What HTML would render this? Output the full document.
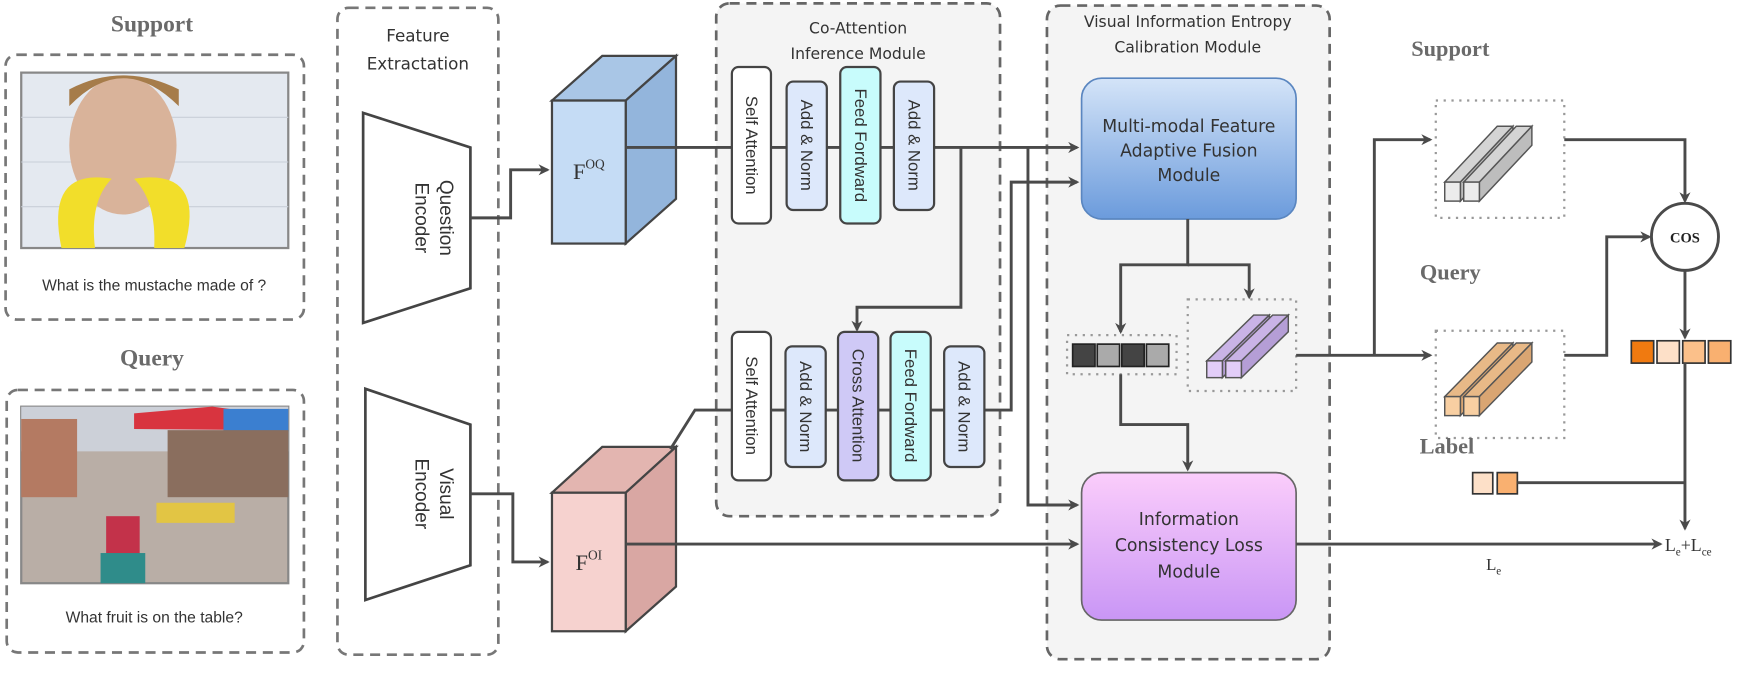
<!DOCTYPE html>
<html><head><meta charset="utf-8"><style>
html,body{margin:0;padding:0;background:#fff;}
svg{display:block;}
.t{font-family:"Liberation Sans",sans-serif;fill:#333;}
.c{font-family:"DejaVu Sans","Liberation Sans",sans-serif;fill:#333;}
.lbl{font-family:"Liberation Serif",serif;font-weight:bold;fill:#6a6a6a;}
.ln{stroke:#4a4a4a;stroke-width:2.6;fill:none;}
.dash{fill:#f4f4f4;stroke:#666;stroke-width:2.4;stroke-dasharray:9 6;}
.dashw{fill:#fff;stroke:#777;stroke-width:2.4;stroke-dasharray:9 6;}
.dot{fill:none;stroke:#999;stroke-width:2;stroke-dasharray:2 5;}
.blk{stroke:#444;stroke-width:2;}
</style></head><body>
<svg width="1752" height="686" viewBox="0 0 1568 614" preserveAspectRatio="none" xmlns="http://www.w3.org/2000/svg">
<defs>
<marker id="a" markerWidth="10" markerHeight="10" refX="8" refY="5" orient="auto" markerUnits="userSpaceOnUse"><path d="M0,0 L10,5 L0,10 L3,5 z" fill="#4a4a4a"/></marker>
<linearGradient id="gb" x1="0" y1="0" x2="0" y2="1"><stop offset="0" stop-color="#d4e4f8"/><stop offset="1" stop-color="#6b9bdc"/></linearGradient>
<linearGradient id="gp" x1="0" y1="0" x2="0" y2="1"><stop offset="0" stop-color="#fbcdfb"/><stop offset="1" stop-color="#c996f5"/></linearGradient>
</defs>

<!-- Left panel -->
<text x="136" y="28" text-anchor="middle" class="lbl" font-size="21">Support</text>
<rect x="5" y="49" width="267" height="237" rx="10" class="dashw"/>
<rect x="19" y="65" width="239" height="157" fill="#e4e9f0" stroke="#888" stroke-width="2"/>
<line x1="19" y1="105" x2="258" y2="105" stroke="#c8ced8"/><line x1="19" y1="145" x2="258" y2="145" stroke="#c8ced8"/><line x1="19" y1="185" x2="258" y2="185" stroke="#c8ced8"/>
<ellipse cx="110" cy="130" rx="48" ry="62" fill="#d9b39a"/>
<path d="M62,95 Q110,45 160,95 L160,80 Q110,55 62,80z" fill="#a67c4a"/>
<path d="M55,222 Q40,150 100,160 Q80,180 85,222z" fill="#f2de2a"/>
<path d="M165,222 Q185,150 120,160 Q140,180 138,222z" fill="#f2de2a"/>
<text x="138" y="260" text-anchor="middle" class="t" font-size="14">What is the mustache made of ?</text>

<text x="136" y="327" text-anchor="middle" class="lbl" font-size="21">Query</text>
<rect x="6" y="349" width="266" height="235" rx="10" class="dashw"/>
<rect x="19" y="364" width="239" height="158" fill="#b9aea6" stroke="#888" stroke-width="2"/>
<rect x="19" y="364" width="239" height="40" fill="#ccd0d8"/>
<path d="M120,370 L190,364 L250,372 L250,385 L120,384z" fill="#d8343f"/>
<rect x="200" y="366" width="58" height="20" fill="#3b7fd0"/>
<rect x="19" y="375" width="50" height="70" fill="#b47a62"/>
<rect x="150" y="385" width="108" height="60" fill="#8a6e5e"/>
<rect x="140" y="450" width="70" height="18" fill="#e2c544"/>
<rect x="95" y="462" width="30" height="35" fill="#c3324a"/>
<rect x="90" y="495" width="40" height="27" fill="#2f8c8a"/>
<text x="138" y="557" text-anchor="middle" class="t" font-size="14">What fruit is on the table?</text>

<!-- Feature extraction -->
<rect x="302" y="7" width="144" height="579" rx="10" class="dashw"/>
<text x="374" y="37" text-anchor="middle" class="c" font-size="15">Feature</text>
<text x="374" y="62" text-anchor="middle" class="c" font-size="15">Extractation</text>
<polygon points="325,101 421,132 421,258 325,289" fill="#fff" stroke="#444" stroke-width="2.4"/>
<text transform="translate(386,195) rotate(90)" text-anchor="middle" class="t" font-size="17"><tspan x="0" y="-8">Question</tspan><tspan x="0" y="14">Encoder</tspan></text>
<polygon points="327,348 421,380 421,506 327,537" fill="#fff" stroke="#444" stroke-width="2.4"/>
<text transform="translate(386,442) rotate(90)" text-anchor="middle" class="t" font-size="17"><tspan x="0" y="-8">Visual</tspan><tspan x="0" y="14">Encoder</tspan></text>

<polyline points="421,195 457,195 457,152 490,152" class="ln" marker-end="url(#a)"/>
<polyline points="421,442 459,442 459,503 490,503" class="ln" marker-end="url(#a)"/>

<!-- cubes -->
<polygon points="494,90 539,50 605,50 560,90" fill="#a9c6e6" stroke="#444" stroke-width="2"/>
<polygon points="560,90 605,50 605,178 560,218" fill="#93b5dc" stroke="#444" stroke-width="2"/>
<rect x="494" y="90" width="66" height="128" fill="#c5dcf5" stroke="#444" stroke-width="2"/>
<text x="527" y="160" text-anchor="middle" font-family="Liberation Serif,serif" font-size="20" fill="#333">F<tspan font-size="12" dy="-9">OQ</tspan></text>

<polygon points="494,441 539,400 605,400 560,441" fill="#e3b5b0" stroke="#444" stroke-width="2"/>
<polygon points="560,441 605,400 605,525 560,565" fill="#d9a7a3" stroke="#444" stroke-width="2"/>
<rect x="494" y="441" width="66" height="124" fill="#f6d2cf" stroke="#444" stroke-width="2"/>
<text x="527" y="510" text-anchor="middle" font-family="Liberation Serif,serif" font-size="20" fill="#333">F<tspan font-size="12" dy="-9">OI</tspan></text>

<!-- Boxes behind connectors -->
<rect x="641" y="3" width="254" height="459" rx="12" class="dash"/>
<rect x="937" y="5" width="253" height="585" rx="12" class="dash"/>
<text x="768" y="30" text-anchor="middle" class="c" font-size="14">Co-Attention</text>
<text x="768" y="53" text-anchor="middle" class="c" font-size="14">Inference Module</text>
<text x="1063" y="24" text-anchor="middle" class="c" font-size="14">Visual Information Entropy</text>
<text x="1063" y="47" text-anchor="middle" class="c" font-size="14">Calibration Module</text>

<line x1="560" y1="132" x2="964" y2="132" class="ln" marker-end="url(#a)"/>
<polyline points="860,132 860,275 767,275 767,295" class="ln" marker-end="url(#a)"/>
<polyline points="920,132 920,452 964,452" class="ln" marker-end="url(#a)"/>
<polyline points="600,402 622,367 905,367 905,163 964,163" class="ln" marker-end="url(#a)"/>
<line x1="560" y1="487" x2="964" y2="487" class="ln" marker-end="url(#a)"/>

<g class="t" font-size="15">
<rect x="655" y="60" width="35" height="140" rx="6" fill="#fff" class="blk"/><text transform="translate(672.5,130) rotate(90)" text-anchor="middle" y="5">Self Attention</text>
<rect x="704" y="73" width="36" height="115" rx="6" fill="#dde8fb" class="blk"/><text transform="translate(722,130) rotate(90)" text-anchor="middle" y="5">Add &amp; Norm</text>
<rect x="752" y="60" width="36" height="140" rx="6" fill="#c8fcfc" class="blk"/><text transform="translate(770,130) rotate(90)" text-anchor="middle" y="5">Feed Fordward</text>
<rect x="800" y="73" width="36" height="115" rx="6" fill="#dde8fb" class="blk"/><text transform="translate(818,130) rotate(90)" text-anchor="middle" y="5">Add &amp; Norm</text>

<rect x="655" y="297" width="35" height="133" rx="6" fill="#fff" class="blk"/><text transform="translate(672.5,363) rotate(90)" text-anchor="middle" y="5">Self Attention</text>
<rect x="703" y="310" width="36" height="108" rx="6" fill="#dde8fb" class="blk"/><text transform="translate(721,364) rotate(90)" text-anchor="middle" y="5">Add &amp; Norm</text>
<rect x="750" y="297" width="36" height="133" rx="6" fill="#cfc9f6" class="blk"/><text transform="translate(768,363) rotate(90)" text-anchor="middle" y="5">Cross Attention</text>
<rect x="797" y="297" width="36" height="133" rx="6" fill="#c8fcfc" class="blk"/><text transform="translate(815,363) rotate(90)" text-anchor="middle" y="5">Feed Fordward</text>
<rect x="845" y="310" width="36" height="108" rx="6" fill="#dde8fb" class="blk"/><text transform="translate(863,364) rotate(90)" text-anchor="middle" y="5">Add &amp; Norm</text>
</g>

<!-- VIE contents -->
<rect x="968" y="70" width="192" height="126" rx="18" fill="url(#gb)" stroke="#5a86c0" stroke-width="1.5"/>
<g class="c" font-size="15.5" text-anchor="middle">
<text x="1064" y="118">Multi-modal Feature</text><text x="1064" y="140">Adaptive Fusion</text><text x="1064" y="162">Module</text>
</g>
<polyline points="1063,196 1063,237 1003,237 1003,297" class="ln" marker-end="url(#a)"/>
<polyline points="1063,237 1118,237 1118,266" class="ln" marker-end="url(#a)"/>
<rect x="955" y="300" width="98" height="35" class="dot"/>
<rect x="960" y="308" width="20" height="20" fill="#444" stroke="#222" stroke-width="1.5"/>
<rect x="982" y="308" width="20" height="20" fill="#aaa" stroke="#222" stroke-width="1.5"/>
<rect x="1004" y="308" width="20" height="20" fill="#444" stroke="#222" stroke-width="1.5"/>
<rect x="1026" y="308" width="20" height="20" fill="#aaa" stroke="#222" stroke-width="1.5"/>
<polyline points="1003,335 1003,380 1063,380 1063,420" class="ln" marker-end="url(#a)"/>
<rect x="1063" y="268" width="97" height="82" class="dot"/>
<g stroke="#555" stroke-width="1.3">
<polygon points="1080,323 1122,282 1136,282 1094,323" fill="#c9b3e6"/><polygon points="1094,323 1136,282 1136,297 1094,338" fill="#b59ed6"/><rect x="1080" y="323" width="14" height="15" fill="#e2cdf8"/>
<polygon points="1097,323 1139,282 1153,282 1111,323" fill="#c9b3e6"/><polygon points="1111,323 1153,282 1153,297 1111,338" fill="#b59ed6"/><rect x="1097" y="323" width="14" height="15" fill="#e2cdf8"/>
</g>
<rect x="968" y="423" width="192" height="132" rx="18" fill="url(#gp)" stroke="#666" stroke-width="1.5"/>
<g class="c" font-size="15.5" text-anchor="middle">
<text x="1064" y="470">Information</text><text x="1064" y="493">Consistency Loss</text><text x="1064" y="517">Module</text>
</g>

<!-- right -->
<line x1="1160" y1="487" x2="1486" y2="487" class="ln" marker-end="url(#a)"/>
<text x="1330" y="510" font-family="Liberation Serif,serif" font-size="15" fill="#333">L<tspan font-size="10" dy="4">e</tspan></text>
<text x="1490" y="493" font-family="Liberation Serif,serif" font-size="16" fill="#333">L<tspan font-size="10" dy="4">e</tspan><tspan dy="-4">+L</tspan><tspan font-size="10" dy="4">ce</tspan></text>
<polyline points="1160,318 1280,318" class="ln" marker-end="url(#a)"/>
<polyline points="1230,318 1230,125 1280,125" class="ln" marker-end="url(#a)"/>
<text x="1298" y="50" text-anchor="middle" class="lbl" font-size="20">Support</text>
<rect x="1285" y="90" width="115" height="105" class="dot"/>
<g stroke="#555" stroke-width="1.3">
<polygon points="1293,163 1340,113 1354,113 1307,163" fill="#d4d4d4"/><polygon points="1307,163 1354,113 1354,130 1307,180" fill="#bdbdbd"/><rect x="1293" y="163" width="14" height="17" fill="#ececec"/>
<polygon points="1310,163 1357,113 1371,113 1324,163" fill="#d4d4d4"/><polygon points="1324,163 1371,113 1371,130 1324,180" fill="#bdbdbd"/><rect x="1310" y="163" width="14" height="17" fill="#ececec"/>
</g>
<text x="1298" y="250" text-anchor="middle" class="lbl" font-size="20">Query</text>
<rect x="1285" y="296" width="115" height="96" class="dot"/>
<g stroke="#555" stroke-width="1.3">
<polygon points="1293,355 1340,307 1354,307 1307,355" fill="#e8b987"/><polygon points="1307,355 1354,307 1354,324 1307,372" fill="#d9a572"/><rect x="1293" y="355" width="14" height="17" fill="#f8cfa2"/>
<polygon points="1310,355 1357,307 1371,307 1324,355" fill="#e8b987"/><polygon points="1324,355 1371,307 1371,324 1324,372" fill="#d9a572"/><rect x="1310" y="355" width="14" height="17" fill="#f8cfa2"/>
</g>
<polyline points="1400,318 1438,318 1438,212 1476,212" class="ln" marker-end="url(#a)"/>
<polyline points="1400,125 1508,125 1508,180" class="ln" marker-end="url(#a)"/>
<circle cx="1508" cy="212" r="30" fill="#fff" stroke="#4a4a4a" stroke-width="2.6"/>
<text x="1508" y="217" text-anchor="middle" font-family="Liberation Serif,serif" font-weight="bold" font-size="13" fill="#222">COS</text>
<line x1="1508" y1="242" x2="1508" y2="302" class="ln" marker-end="url(#a)"/>
<rect x="1460" y="305" width="20" height="20" fill="#f07a10" stroke="#333" stroke-width="1.5"/>
<rect x="1483" y="305" width="20" height="20" fill="#fde0c8" stroke="#333" stroke-width="1.5"/>
<rect x="1506" y="305" width="20" height="20" fill="#fbc08a" stroke="#333" stroke-width="1.5"/>
<rect x="1529" y="305" width="20" height="20" fill="#f9b070" stroke="#333" stroke-width="1.5"/>
<line x1="1508" y1="325" x2="1508" y2="473" class="ln" marker-end="url(#a)"/>
<text x="1295" y="406" text-anchor="middle" class="lbl" font-size="20">Label</text>
<rect x="1318" y="423" width="18" height="19" fill="#fde0c8" stroke="#333" stroke-width="1.5"/>
<rect x="1340" y="423" width="18" height="19" fill="#f9b070" stroke="#333" stroke-width="1.5"/>
<line x1="1358" y1="432" x2="1508" y2="432" class="ln"/>
</svg>
</body></html>
